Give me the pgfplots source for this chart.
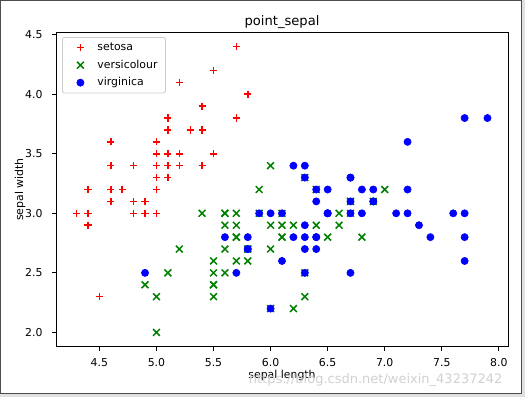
\documentclass[border=0pt]{standalone}
\usepackage{fontspec}
\setmainfont{DejaVu Sans}
\usepackage{pgfplots}
\pgfplotsset{compat=1.18}
\usepackage{pgfplotstable}

\pgfplotstableread{
x y
5.1 3.5
4.9 3.0
4.7 3.2
4.6 3.1
5.0 3.6
5.4 3.9
4.6 3.4
5.0 3.4
4.4 2.9
4.9 3.1
5.4 3.7
4.8 3.4
4.8 3.0
4.3 3.0
5.8 4.0
5.7 4.4
5.4 3.9
5.1 3.5
5.7 3.8
5.1 3.8
5.4 3.4
5.1 3.7
4.6 3.6
5.1 3.3
4.8 3.4
5.0 3.0
5.0 3.4
5.2 3.5
5.2 3.4
4.7 3.2
4.8 3.1
5.4 3.4
5.2 4.1
5.5 4.2
4.9 3.1
5.0 3.2
5.5 3.5
4.9 3.1
4.4 3.0
5.1 3.4
5.0 3.5
4.5 2.3
4.4 3.2
5.0 3.5
5.1 3.8
4.8 3.0
5.1 3.8
4.6 3.2
5.3 3.7
5.0 3.3
}\setosa

\pgfplotstableread{
x y
7.0 3.2
6.4 3.2
6.9 3.1
5.5 2.3
6.5 2.8
5.7 2.8
6.3 3.3
4.9 2.4
6.6 2.9
5.2 2.7
5.0 2.0
5.9 3.0
6.0 2.2
6.1 2.9
5.6 2.9
6.7 3.1
5.6 3.0
5.8 2.7
6.2 2.2
5.6 2.5
5.9 3.2
6.1 2.8
6.3 2.5
6.1 2.8
6.4 2.9
6.6 3.0
6.8 2.8
6.7 3.0
6.0 2.9
5.7 2.6
5.5 2.4
5.5 2.4
5.8 2.7
6.0 2.7
5.4 3.0
6.0 3.4
6.7 3.1
6.3 2.3
5.6 3.0
5.5 2.5
5.5 2.6
6.1 3.0
5.8 2.6
5.0 2.3
5.6 2.7
5.7 3.0
5.7 2.9
6.2 2.9
5.1 2.5
5.7 2.8
}\versicolour

\pgfplotstableread{
x y
6.3 3.3
5.8 2.7
7.1 3.0
6.3 2.9
6.5 3.0
7.6 3.0
4.9 2.5
7.3 2.9
6.7 2.5
7.2 3.6
6.5 3.2
6.4 2.7
6.8 3.0
5.7 2.5
5.8 2.8
6.4 3.2
6.5 3.0
7.7 3.8
7.7 2.6
6.0 2.2
6.9 3.2
5.6 2.8
7.7 2.8
6.3 2.7
6.7 3.3
7.2 3.2
6.2 2.8
6.1 3.0
6.4 2.8
7.2 3.0
7.4 2.8
7.9 3.8
6.4 2.8
6.3 2.8
6.1 2.6
7.7 3.0
6.3 3.4
6.4 3.1
6.0 3.0
6.9 3.1
6.7 3.1
6.9 3.1
5.8 2.7
6.8 3.2
6.7 3.3
6.7 3.0
6.3 2.5
6.5 3.0
6.2 3.4
5.9 3.0
}\virginica

\definecolor{mplgreen}{rgb}{0,0.5,0}

\begin{document}
\fontsize{10.9}{13}\selectfont
\begin{tikzpicture}
\useasboundingbox (0,0) rectangle (525pt,397pt);
\fill[black!12] (0,0) rectangle (525pt,397pt);
\filldraw[fill=white,draw=black!70,line width=1.2pt] (0.6pt,3.5pt) rectangle (521.5pt,396.4pt);
\begin{axis}[
  at={(56pt,50.3pt)}, anchor=south west,
  scale only axis, width=452pt, height=314.4pt,
  xmin=4.12, xmax=8.08, ymin=1.88, ymax=4.52,
  xtick={4.5,5.0,5.5,6.0,6.5,7.0,7.5,8.0},
  ytick={2.0,2.5,3.0,3.5,4.0,4.5},
  xtick pos=bottom, ytick pos=left,
  tick align=outside, major tick length=4pt,
  every tick/.style={black, line width=0.8pt},
  axis line style={line width=0.9pt},
  /pgf/number format/.cd, fixed, fixed zerofill, precision=1, assume math mode=true,
  /pgfplots/.cd,
  ticklabel style={font=\fontsize{10.9}{13}\selectfont},
  xticklabel style={anchor=base, inner sep=0pt, yshift=-16pt},
  yticklabel style={anchor=east, inner sep=0pt, xshift=-9.3pt},
  every axis title shift=0pt,
  title={point\_sepal},
  title style={at={(axis description cs:0.5,1.0207)}, anchor=base, yshift=0pt, font=\fontsize{13.1}{15}\selectfont},
  xlabel={sepal length},
  xlabel style={at={(axis description cs:0.5,-0.0996)}, anchor=base, font=\fontsize{10.9}{13}\selectfont},
  ylabel={sepal width},
  ylabel style={at={(axis description cs:-0.073,0.5)}, anchor=base, rotate=0, font=\fontsize{10.9}{13}\selectfont},
  legend cell align=left,
  legend image code/.code={\path[draw=none,fill=none] (0pt,-4pt) rectangle (20pt,4pt); \draw[#1] plot coordinates {(12pt,0pt)};},
  legend style={at={(axis description cs:0.0133,0.985)}, anchor=north west,
    draw=black!20, line width=0.8pt, rounded corners=2pt, fill=white,
    inner xsep=6pt, inner ysep=3pt, row sep=3pt,
    font=\fontsize{10.9}{13}\selectfont,
    nodes={inner sep=2pt, text height=8.2pt, text depth=2.3pt},
    /tikz/every odd column/.append style={column sep=7pt}},
]
\addplot[only marks, mark=+, mark size=3.6pt, red, line width=1.5pt] table {\setosa};
\addlegendentry{setosa}
\addplot[only marks, mark=x, mark size=4.8pt, mplgreen, line width=1.5pt] table {\versicolour};
\addlegendentry{versicolour}
\addplot[only marks, mark=*, mark size=3.6pt, blue, mark options={draw=blue, fill=blue, line width=0.6pt}] table {\virginica};
\addlegendentry{virginica}
\end{axis}
\node[anchor=base west, text=black!18, font=\fontsize{13}{15}\selectfont] at (245pt,14pt) {https://blog.csdn.net/weixin\_43237242};
\end{tikzpicture}
\end{document}
